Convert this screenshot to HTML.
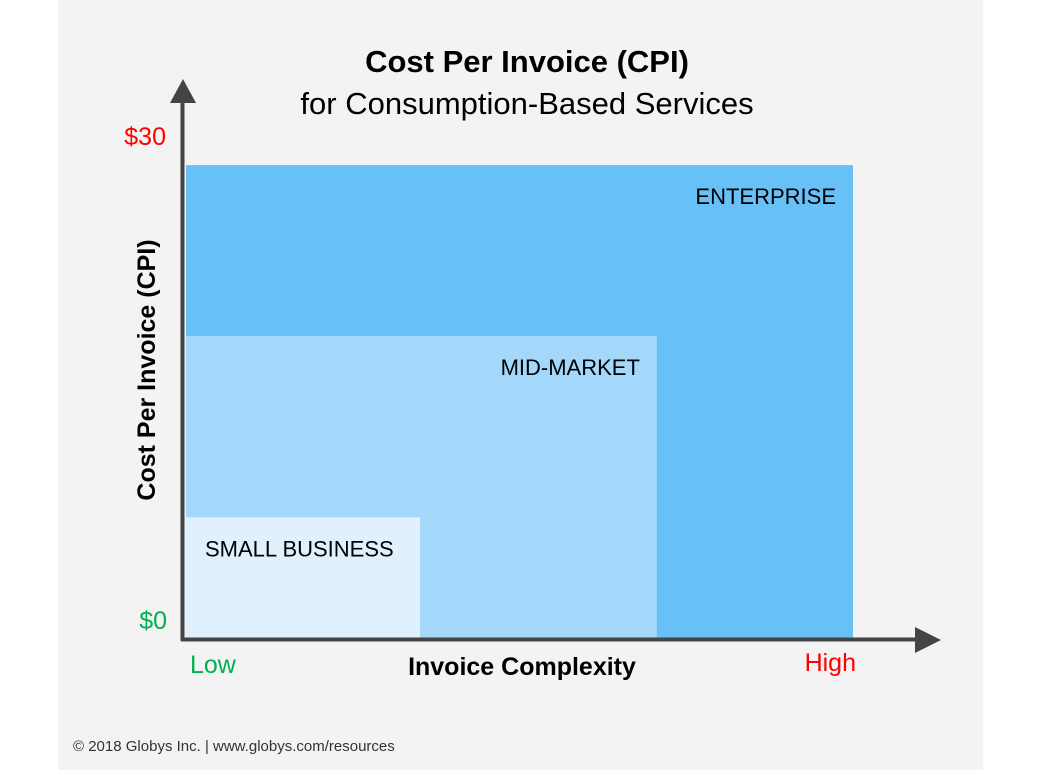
<!DOCTYPE html>
<html><head><meta charset="utf-8"><style>
body{margin:0;background:#fff;width:1053px;height:770px;overflow:hidden;font-family:"Liberation Sans",sans-serif}
</style></head><body>
<svg width="1053" height="770" xmlns="http://www.w3.org/2000/svg">
<rect x="58" y="0" width="925" height="770" fill="#f3f3f3"/>
<text x="527" y="72" text-anchor="middle" font-size="31" font-weight="bold" fill="#000">Cost Per Invoice (CPI)</text>
<text x="527" y="114" text-anchor="middle" font-size="31" fill="#000">for Consumption-Based Services</text>
<g id="bars"></g>
<g id="labels"></g>
<line x1="182.5" y1="100" x2="182.5" y2="641" stroke="#444" stroke-width="4"/>
<polygon points="183,79 170,103 196,103" fill="#444"/>
<line x1="181" y1="639.5" x2="918" y2="639.5" stroke="#444" stroke-width="4"/>
<polygon points="941,640 915,627 915,653" fill="#444"/>
<text x="166" y="145" text-anchor="end" font-size="25" fill="#ff0000">$30</text>
<text x="167" y="629" text-anchor="end" font-size="25" fill="#00b050">$0</text>
<text x="190" y="673" font-size="25" fill="#00b050">Low</text>
<text x="856" y="671" text-anchor="end" font-size="25" fill="#ff0000">High</text>
<text x="522" y="675" text-anchor="middle" font-size="25" font-weight="bold" fill="#000">Invoice Complexity</text>
<text transform="translate(155,370) rotate(-90)" text-anchor="middle" font-size="25" font-weight="bold" fill="#000">Cost Per Invoice (CPI)</text>
<text x="73" y="751" font-size="15" fill="#333">© 2018 Globys Inc. | www.globys.com/resources</text>
</svg>
<script>
const segments=["ENTERPRISE","MID-MARKET","SMALL BUSINESS"];
const complexity=[100,70.6,35.1];
const cost=[28.2,18,7.2];
const colors=["#68c1f6","#a3d8fa","#e0f1fd"];
const xs=v=>186+v*6.67;
const ys=v=>638-v*16.77;
const NS="http://www.w3.org/2000/svg";
const bars=document.getElementById('bars'),labels=document.getElementById('labels');
segments.forEach((s,i)=>{
 const r=document.createElementNS(NS,'rect');
 r.setAttribute('x',xs(0));r.setAttribute('y',ys(cost[i]));
 r.setAttribute('width',xs(complexity[i])-xs(0));r.setAttribute('height',ys(0)-ys(cost[i]));
 r.setAttribute('fill',colors[i]);
 
 
 bars.appendChild(r);
 const t=document.createElementNS(NS,'text');
 if(i===2){t.setAttribute('x',205);}else{t.setAttribute('x',xs(complexity[i])-17);t.setAttribute('text-anchor','end');}
 t.setAttribute('y',ys(cost[i])+39);
 t.setAttribute('font-size','22');t.setAttribute('fill','#000');
 t.textContent=s;
 
 
 labels.appendChild(t);
});
</script>
</body></html>
